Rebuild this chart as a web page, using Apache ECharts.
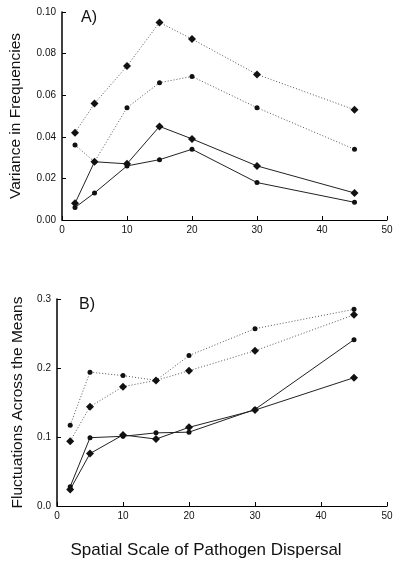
<!DOCTYPE html>
<html>
<head>
<meta charset="utf-8">
<script src="https://cdn.jsdelivr.net/npm/echarts@6/dist/echarts.min.js"></script>
<style>
html, body { margin: 0; padding: 0; background: #fff; }
#main { width: 398px; height: 564px; }
</style>
</head>
<body>
<div id="main"></div>
<script>
// spatial scale of pathogen dispersal (x values shared by all curves)
var scaleX = [2, 5, 10, 15, 20, 30, 45];

// panel A - variance in frequencies
var varDotDiamond = [0.042, 0.056, 0.074, 0.095, 0.087, 0.070, 0.053];
var varDotCircle  = [0.036, 0.028, 0.054, 0.066, 0.069, 0.054, 0.034];
var varSolDiamond = [0.008, 0.028, 0.027, 0.045, 0.039, 0.026, 0.013];
var varSolCircle  = [0.006, 0.013, 0.026, 0.029, 0.034, 0.018, 0.0085];

// panel B - fluctuations across the means
var flucDotCircle  = [0.117, 0.194, 0.189, 0.182, 0.218, 0.257, 0.285];
var flucDotDiamond = [0.094, 0.144, 0.173, 0.182, 0.196, 0.225, 0.277];
var flucSolCircle  = [0.028, 0.099, 0.101, 0.106, 0.107, 0.140, 0.241];
var flucSolDiamond = [0.024, 0.076, 0.103, 0.097, 0.114, 0.139, 0.186];

var FONT = 'Liberation Sans, Arial, Helvetica, sans-serif';

function pairs(ys) {
    var a = [];
    for (var i = 0; i < scaleX.length; i++) {
        a.push([scaleX[i], ys[i]]);
    }
    return a;
}

function makeSeries(ys, idx, symbol, dotted) {
    return {
        type: 'line',
        xAxisIndex: idx,
        yAxisIndex: idx,
        data: pairs(ys),
        symbol: symbol,
        symbolSize: symbol === 'diamond' ? 8 : 5,
        itemStyle: { color: '#111' },
        lineStyle: {
            color: dotted ? '#555' : '#222',
            width: 1,
            type: dotted ? [1, 2] : 'solid'
        },
        silent: true,
        animation: false
    };
}

function makeXAxis(gridIndex, opt) {
    return echarts.util.merge({
        type: 'value',
        gridIndex: gridIndex,
        min: 0,
        max: 50,
        interval: 10,
        axisLine: { show: true, lineStyle: { color: '#000', width: 1 } },
        axisTick: { show: true, inside: true, length: 4, lineStyle: { color: '#000' } },
        axisLabel: { color: '#111', fontSize: 10, fontFamily: FONT, margin: 5 },
        splitLine: { show: false }
    }, opt || {}, true);
}

function makeYAxis(gridIndex, opt) {
    return echarts.util.merge({
        type: 'value',
        gridIndex: gridIndex,
        nameLocation: 'middle',
        nameTextStyle: { color: '#111', fontSize: 15.5, fontFamily: FONT },
        axisLine: { show: true, lineStyle: { color: '#000', width: 1.5 } },
        axisTick: { show: true, inside: true, length: 4, lineStyle: { color: '#000' } },
        axisLabel: { color: '#111', fontSize: 10, fontFamily: FONT, margin: 6 },
        splitLine: { show: false }
    }, opt || {}, true);
}

var chart = echarts.init(document.getElementById('main'), null, { renderer: 'canvas' });

var option = {
    backgroundColor: '#fff',
    animation: false,
    title: [
        { text: 'A)', left: 81, top: 10, padding: 0, textStyle: { fontSize: 16, fontWeight: 'normal', color: '#111', fontFamily: FONT } },
        { text: 'B)', left: 79, top: 297, padding: 0, textStyle: { fontSize: 16, fontWeight: 'normal', color: '#111', fontFamily: FONT } }
    ],
    grid: [
        { left: 62, right: 11, top: 12, height: 208, outerBoundsMode: 'none' },
        { left: 57, right: 11, top: 299, height: 207, outerBoundsMode: 'none' }
    ],
    xAxis: [
        makeXAxis(0),
        makeXAxis(1, {
            name: 'Spatial Scale of Pathogen Dispersal',
            nameLocation: 'middle',
            nameGap: 36,
            nameTextStyle: { color: '#111', fontSize: 17, fontFamily: FONT, padding: [0, 32, 0, 0] }
        })
    ],
    yAxis: [
        makeYAxis(0, {
            name: 'Variance in Frequencies',
            nameGap: 38,
            min: 0, max: 0.1, interval: 0.02,
            axisLabel: { formatter: function (v) { return v.toFixed(2); } }
        }),
        makeYAxis(1, {
            name: 'Fluctuations Across the Means',
            nameGap: 31,
            min: 0, max: 0.3, interval: 0.1,
            axisLabel: { formatter: function (v) { return v.toFixed(1); } }
        })
    ],
    series: [
        makeSeries(varDotDiamond, 0, 'diamond', true),
        makeSeries(varDotCircle, 0, 'circle', true),
        makeSeries(varSolDiamond, 0, 'diamond', false),
        makeSeries(varSolCircle, 0, 'circle', false),
        makeSeries(flucDotCircle, 1, 'circle', true),
        makeSeries(flucDotDiamond, 1, 'diamond', true),
        makeSeries(flucSolCircle, 1, 'circle', false),
        makeSeries(flucSolDiamond, 1, 'diamond', false)
    ]
};

chart.setOption(option);
</script>
</body>
</html>
